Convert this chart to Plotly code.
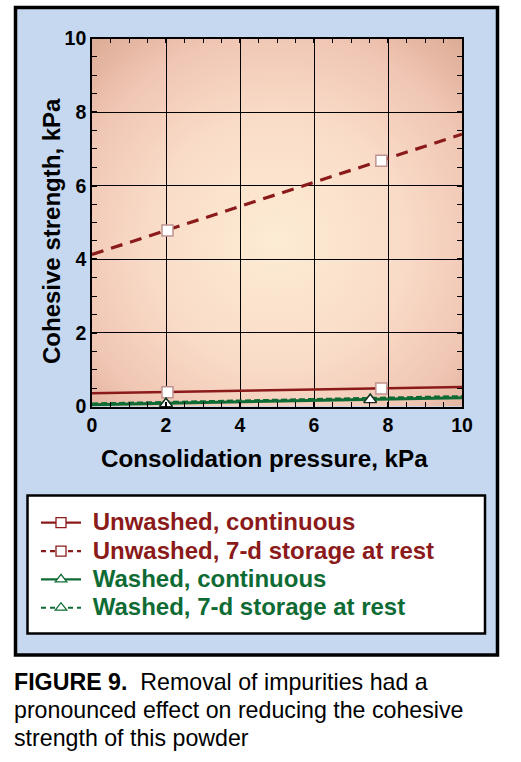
import base64
import plotly.graph_objects as go

# ---------------- data ----------------
series_names = [
    "Unwashed, continuous",
    "Unwashed, 7-d storage at rest",
    "Washed, continuous",
    "Washed, 7-d storage at rest",
]
unwashed_cont_x = [2.04, 7.82]
unwashed_cont_y = [0.39, 0.49]
unwashed_rest_x = [2.04, 7.82]
unwashed_rest_y = [4.78, 6.68]
washed_cont_x = [2.0, 7.52]
washed_cont_y = [0.07, 0.18]
washed_rest_x = [2.0, 7.52]
washed_rest_y = [0.08, 0.19]

fit_x = [0, 10]
unwashed_cont_fit = [0.36, 0.53]
unwashed_rest_fit = [4.13, 7.40]
washed_cont_fit = [0.05, 0.24]
washed_rest_fit = [0.07, 0.27]

x_ticks = [0, 2, 4, 6, 8, 10]
y_ticks = [0, 2, 4, 6, 8, 10]

caption_lines = [
    "<b>FIGURE 9.</b>  Removal of impurities had a",
    "pronounced effect on reducing the cohesive",
    "strength of this powder",
]
x_title = "Consolidation pressure, kPa"
y_title = "Cohesive strength, kPa"

# ---------------- styling ----------------
W, H = 521, 762
RED = "#8B1A1A"
GREEN = "#0F6B34"
FONT = "Liberation Sans, Arial, Helvetica, sans-serif"


def px(v):
    return v / W


def py(v):
    return 1 - v / H


fig = go.Figure()

# fitted lines
fig.add_trace(go.Scatter(x=fit_x, y=unwashed_cont_fit, mode="lines",
                         line=dict(color=RED, width=2.5), showlegend=False, hoverinfo="skip"))
fig.add_trace(go.Scatter(x=fit_x, y=unwashed_rest_fit, mode="lines",
                         line=dict(color=RED, width=3.2, dash="12px,8px"), showlegend=False, hoverinfo="skip"))
fig.add_trace(go.Scatter(x=fit_x, y=washed_rest_fit, mode="lines",
                         line=dict(color=GREEN, width=3, dash="6px,3px"), showlegend=False, hoverinfo="skip"))
fig.add_trace(go.Scatter(x=fit_x, y=washed_cont_fit, mode="lines",
                         line=dict(color=GREEN, width=3), showlegend=False, hoverinfo="skip"))

# data points
sq = dict(symbol="square", size=11, color="white", line=dict(color="#C09290", width=1.5))
fig.add_trace(go.Scatter(x=unwashed_cont_x, y=unwashed_cont_y, mode="markers", marker=sq,
                         showlegend=False, cliponaxis=False))
fig.add_trace(go.Scatter(x=unwashed_rest_x, y=unwashed_rest_y, mode="markers", marker=sq,
                         showlegend=False, cliponaxis=False))
fig.add_trace(go.Scatter(x=washed_rest_x, y=washed_rest_y, mode="markers",
                         marker=dict(symbol="triangle-up", size=11, color="white",
                                     line=dict(color=GREEN, width=1.5)),
                         showlegend=False, cliponaxis=False))
fig.add_trace(go.Scatter(x=washed_cont_x, y=washed_cont_y, mode="markers",
                         marker=dict(symbol="triangle-up", size=11, color="white",
                                     line=dict(color="#1c2a20", width=1.3)),
                         showlegend=False, cliponaxis=False))

# legend entries
leg_styles = [
    (RED, "solid", "square"),
    (RED, "5px,4px", "square"),
    (GREEN, "solid", "triangle-up"),
    (GREEN, "5px,4px", "triangle-up"),
]
for name, (col, dash, sym) in zip(series_names, leg_styles):
    fig.add_trace(go.Scatter(
        x=[None], y=[None], mode="lines+markers",
        name=f"<span style='color:{col};font-size:24px'><b>\u00a0{name}</b></span>",
        line=dict(color=col, width=2.2, dash=dash),
        marker=dict(symbol=sym, size=10, color="white", line=dict(color=col, width=1.3)),
        legendgroup=name,
    ))

# background radial gradient image
svg = (
    "<svg xmlns='http://www.w3.org/2000/svg' width='200' height='200' viewBox='0 0 200 200' "
    "preserveAspectRatio='none'><defs><radialGradient id='g' cx='0.5' cy='0.55' r='0.75'>"
    "<stop offset='0' stop-color='#FDECD4'/>"
    "<stop offset='0.45' stop-color='#F9DCC8'/>"
    "<stop offset='0.75' stop-color='#F0C6B4'/>"
    "<stop offset='1' stop-color='#DCAA94'/>"
    "</radialGradient></defs><rect width='200' height='200' fill='url(#g)'/></svg>"
)
img_src = "data:image/svg+xml;base64," + base64.b64encode(svg.encode()).decode()

axis_common = dict(
    range=[0, 10], showgrid=True, gridcolor="black", gridwidth=1.2,
    showline=True, linecolor="black", linewidth=1.6, mirror="ticks",
    ticks="inside", ticklen=5, tickwidth=1.5, tickcolor="black",
    minor=dict(dtick=0.5, ticks="inside", ticklen=5, tickwidth=1.3, tickcolor="black", showgrid=False),
    tickfont=dict(family=FONT, size=19.5, color="black", weight="bold"),
    zeroline=False, fixedrange=True, automargin=False,
)

fig.update_layout(
    width=W, height=H,
    margin=dict(l=0, r=0, t=0, b=0, pad=0, autoexpand=False),
    paper_bgcolor="white",
    plot_bgcolor="rgba(0,0,0,0)",
    font=dict(family=FONT, color="black"),
    xaxis=dict(domain=[px(92), px(462)], tickvals=x_ticks, **axis_common),
    yaxis=dict(domain=[py(406.5), py(38.5)], tickvals=y_ticks, **axis_common),
    images=[dict(source=img_src, xref="x", yref="y", x=0, y=10, sizex=10, sizey=10,
                 sizing="stretch", layer="below", xanchor="left", yanchor="top")],
    shapes=[
        dict(type="rect", xref="paper", yref="paper", x0=px(15.5), x1=px(497.5),
             y0=py(655), y1=py(7.5), fillcolor="#C5D8EF", line=dict(color="black", width=3.5),
             layer="below"),
        dict(type="rect", xref="paper", yref="paper", x0=px(27.5), x1=px(485),
             y0=py(633.5), y1=py(495.5), fillcolor="white", line=dict(color="black", width=2.5),
             layer="below"),
    ],
    legend=dict(
        x=px(36), y=py(503.5), xanchor="left", yanchor="top",
        bgcolor="rgba(0,0,0,0)", borderwidth=0,
        font=dict(family=FONT, size=19.5),
        traceorder="grouped", tracegroupgap=0, itemwidth=40,
        itemclick=False, itemdoubleclick=False,
    ),
    showlegend=True,
)

# axis titles
fig.add_annotation(text=f"<b>{x_title}</b>", x=px(264), y=py(458), xref="paper", yref="paper",
                   showarrow=False, xanchor="center", yanchor="middle",
                   font=dict(family=FONT, size=24.2, color="black"))
fig.add_annotation(text=f"<b>{y_title}</b>", x=px(51), y=py(231), xref="paper", yref="paper",
                   showarrow=False, xanchor="center", yanchor="middle", textangle=-90,
                   font=dict(family=FONT, size=24, color="black"))

# caption
for line, yc in zip(caption_lines, [682, 710, 738]):
    fig.add_annotation(text=line, x=px(12), y=py(yc), xref="paper", yref="paper",
                       showarrow=False, xanchor="left", yanchor="middle", align="left",
                       font=dict(family=FONT, size=23.2, color="black"))

fig.write_html(
    "out.html",
    config={"displayModeBar": False},
    post_script="document.body.style.margin='0';document.body.style.overflow='hidden';",
)
